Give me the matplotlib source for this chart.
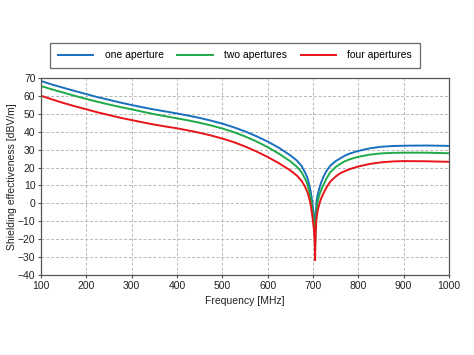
import matplotlib
matplotlib.use("Agg")
import matplotlib.pyplot as plt

plt.rcParams['font.family'] = ['Liberation Sans', 'DejaVu Sans']

freq_one = [100, 125, 150, 175, 200, 225, 250, 275, 300, 325, 350, 375, 400, 425, 450, 475,
            500, 525, 550, 575, 600, 625, 650, 665, 675, 683, 688, 692, 695, 698, 700, 702,
            703, 704, 704.6, 705.3, 706, 707, 708, 710, 713, 715, 719, 723, 730, 738, 750,
            760, 770, 782, 800, 825, 850, 875, 900, 950, 1000]
se_one = [68.3, 66.3, 64.5, 62.7, 61.0, 59.3, 57.8, 56.3, 54.9, 53.6, 52.4, 51.3, 50.2, 49.0, 47.7, 46.2,
          44.5, 42.5, 40.2, 37.5, 34.5, 31.0, 26.8, 23.8, 20.8, 17.0, 14.0, 10.0, 6.5, 1.5, -2.5, -7.0,
          -10.5, -15.0, -22.0, -12.0, -6.0, -2.0, 1.5, 4.5, 7.5, 9.3, 12.3, 14.8, 18.2, 21.0, 23.6,
          25.1, 26.6, 27.9, 29.3, 30.7, 31.6, 32.0, 32.2, 32.3, 32.1]

freq_two = [100, 125, 150, 175, 200, 225, 250, 275, 300, 325, 350, 375, 400, 425, 450, 475,
            500, 525, 550, 575, 600, 625, 650, 665, 675, 683, 688, 692, 695, 698, 700, 702,
            703, 704, 704.6, 705.3, 706, 707, 708, 710, 713, 716, 719, 723, 730, 738, 750,
            760, 770, 782, 800, 825, 850, 875, 900, 950, 1000]
se_two = [65.5, 63.6, 61.8, 60.0, 58.3, 56.7, 55.2, 53.8, 52.5, 51.1, 49.8, 48.6, 47.5, 46.3, 45.0, 43.5,
          41.8, 39.8, 37.4, 34.6, 31.4, 27.7, 23.5, 20.3, 17.3, 13.5, 10.5, 6.5, 3.0, -2.0, -6.0, -10.5,
          -14.0, -18.5, -26.0, -16.0, -10.0, -6.0, -3.0, 0.5, 3.8, 6.2, 8.0, 10.3, 14.0, 17.3, 20.3,
          22.0, 23.5, 24.7, 26.0, 27.2, 27.9, 28.2, 28.3, 28.3, 28.0]

freq_four = [100, 125, 150, 175, 200, 225, 250, 275, 300, 325, 350, 375, 400, 425, 450, 475,
             500, 525, 550, 575, 600, 625, 650, 665, 675, 683, 688, 692, 695, 698, 700, 702,
             703, 704, 704.6, 705.3, 706, 707, 708, 710, 713, 716, 719, 723, 730, 738, 750,
             760, 770, 782, 800, 825, 850, 875, 900, 950, 1000]
se_four = [60.1, 58.0, 56.0, 54.2, 52.5, 50.8, 49.3, 47.8, 46.5, 45.2, 44.0, 42.9, 41.9, 40.7, 39.4, 37.9,
           36.2, 34.2, 31.8, 29.0, 25.9, 22.4, 18.4, 15.4, 12.5, 9.0, 6.0, 2.5, -1.0, -6.0, -10.0, -14.5,
           -18.0, -23.0, -31.7, -21.0, -15.0, -11.0, -8.0, -4.5, -1.2, 1.3, 3.3, 5.6, 9.0, 12.1, 15.0,
           16.8, 18.0, 19.2, 20.6, 22.0, 22.9, 23.4, 23.6, 23.5, 23.2]

labels = ['one aperture', 'two apertures', 'four apertures']
colors = ['#1a6fbf', '#1faa4a', '#e8141a']

xticks = list(range(100, 1001, 100))
yticks = list(range(-40, 71, 10))

W, H = 474, 355
fig = plt.figure(figsize=(W / 100, H / 100), dpi=100)
ax = fig.add_axes([41 / W, 1 - 275 / H, 408 / W, 197 / H])

for fx, fy, lab, c in zip([freq_one, freq_two, freq_four], [se_one, se_two, se_four], labels, colors):
    ax.plot(fx, fy, color=c, lw=1.4, label=lab, solid_joinstyle='round')

ax.set_xlim(100, 1000)
ax.set_ylim(-40, 70)
ax.set_xticks(xticks)
ax.set_yticks(yticks)
ax.tick_params(labelsize=7.5, length=2.5, width=0.8, color='#555555', pad=1.5, labelcolor='#222222')
ax.grid(True, color='#b8b8b8', linestyle=(0, (3, 2)), linewidth=0.7)
for s in ax.spines.values():
    s.set_color('#555555')
    s.set_linewidth(0.9)

ax.set_xlabel('Frequency [MHz]', fontsize=7.5, color='#222222', labelpad=4)
ax.set_ylabel('Shielding effectiveness [dBV/m]', fontsize=7.5, color='#222222', labelpad=0.5)

handles, labs = ax.get_legend_handles_labels()
leg = fig.legend(handles, labs, loc='center', ncol=3,
                 bbox_to_anchor=(235 / W, 1 - 55.5 / H),
                 fontsize=7.5, frameon=True, fancybox=False, handlelength=3.4,
                 handletextpad=1.1, columnspacing=1.3, borderaxespad=0, borderpad=0.75)
leg.get_frame().set_edgecolor('#444444')
leg.get_frame().set_linewidth(0.9)

fig.savefig('out.png', dpi=100)
